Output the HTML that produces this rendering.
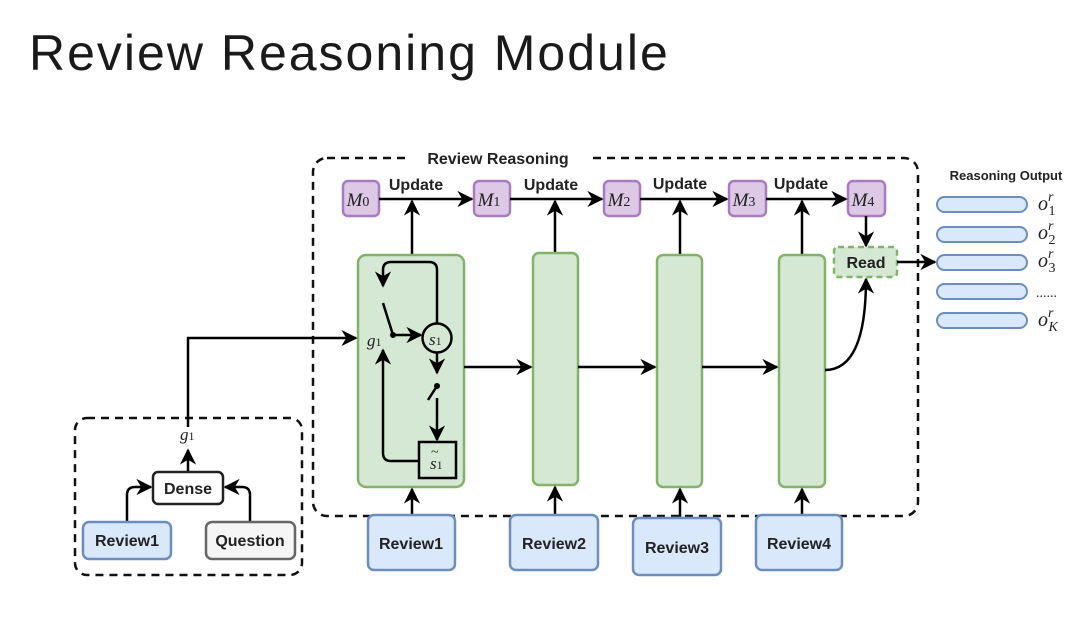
<!DOCTYPE html>
<html><head><meta charset="utf-8"><style>
html,body{margin:0;padding:0;background:#fff;}
body{width:1092px;height:622px;overflow:hidden;position:relative;}
.t{position:absolute;left:29px;top:24px;font-family:"Liberation Sans",sans-serif;font-size:50px;font-weight:normal;color:#1a1a1a;letter-spacing:2px;}
</style></head><body>
<div class="t">Review Reasoning Module</div>
<svg width="1092" height="622" style="position:absolute;left:0;top:0" font-family="Liberation Sans, sans-serif">
<defs>
<marker id="a" viewBox="0 0 10 10" refX="9" refY="5" markerWidth="6.5" markerHeight="6.5" orient="auto-start-reverse"><path d="M0,0 L10,5 L0,10 L3,5 z" fill="#000"/></marker>
</defs>
<g fill="none" stroke="#111" stroke-width="2.5" stroke-dasharray="8,6">
<rect x="313" y="158" width="605" height="358" rx="14"/>
<rect x="75" y="418" width="227" height="157" rx="12"/>
</g>
<rect x="408" y="148" width="180" height="20" fill="#fff"/>
<text x="498" y="164" font-size="16" font-weight="bold" text-anchor="middle" fill="#222">Review Reasoning</text>
<g fill="#ddc8e6" stroke="#a77bc0" stroke-width="2.5">
<rect x="343" y="181" width="36" height="35" rx="5"/>
<rect x="474" y="181" width="36" height="35" rx="5"/>
<rect x="604" y="181" width="36" height="35" rx="5"/>
<rect x="729" y="181" width="37" height="35" rx="5"/>
<rect x="848" y="181" width="37" height="35" rx="5"/>
</g>
<g font-family="Liberation Serif, serif" font-style="italic" font-size="19" fill="#222" text-anchor="middle">
<text x="358" y="206">M<tspan font-style="normal" font-size="14">0</tspan></text>
<text x="489" y="206">M<tspan font-style="normal" font-size="14">1</tspan></text>
<text x="619" y="206">M<tspan font-style="normal" font-size="14">2</tspan></text>
<text x="744" y="206">M<tspan font-style="normal" font-size="14">3</tspan></text>
<text x="863" y="206">M<tspan font-style="normal" font-size="14">4</tspan></text>
</g>
<g font-size="16" font-weight="bold" fill="#222" text-anchor="middle">
<text x="416" y="190">Update</text><text x="551" y="190">Update</text><text x="680" y="189">Update</text><text x="801" y="189">Update</text>
</g>
<g stroke="#000" stroke-width="2.5" fill="none" marker-end="url(#a)">
<line x1="379" y1="199" x2="472" y2="199"/>
<line x1="510" y1="199" x2="602" y2="199"/>
<line x1="640" y1="199" x2="727" y2="199"/>
<line x1="766" y1="199" x2="846" y2="199"/>
<line x1="412" y1="255" x2="412" y2="201"/>
<line x1="555" y1="253" x2="555" y2="201"/>
<line x1="680" y1="255" x2="680" y2="201"/>
<line x1="802" y1="255" x2="802" y2="201"/>
<line x1="866" y1="216" x2="866" y2="246"/>
</g>
<g fill="#d5e8d4" stroke="#82b366" stroke-width="2.5">
<rect x="358" y="255" width="106" height="232" rx="8"/>
<rect x="533" y="253" width="45" height="232" rx="6"/>
<rect x="657" y="255" width="45" height="232" rx="6"/>
<rect x="779" y="255" width="46" height="232" rx="6"/>
<rect x="834" y="247" width="63" height="30" rx="4" stroke-dasharray="6,4"/>
</g>
<text x="866" y="268" font-size="16" font-weight="bold" text-anchor="middle" fill="#222">Read</text>
<g stroke="#000" stroke-width="2.5" fill="none">
<line x1="464" y1="367" x2="531" y2="367" marker-end="url(#a)"/>
<line x1="578" y1="367" x2="655" y2="367" marker-end="url(#a)"/>
<line x1="702" y1="367" x2="777" y2="367" marker-end="url(#a)"/>
<path d="M825,370 C860,370 866,320 866,279" marker-end="url(#a)"/>
<line x1="897" y1="262" x2="935" y2="262" marker-end="url(#a)"/>
<path d="M188,427 L188,338 L356,338" marker-end="url(#a)"/>
<path d="M437,323 L437,270 Q437,262 429,262 L391,262 Q383,262 383,270 L383,286" marker-end="url(#a)"/>
<line x1="383" y1="303" x2="393" y2="335"/>
<line x1="393" y1="335" x2="421" y2="335" marker-end="url(#a)"/>
<line x1="437" y1="353" x2="437" y2="373" marker-end="url(#a)"/>
<line x1="437" y1="386" x2="428" y2="400"/>
<line x1="437" y1="398" x2="437" y2="440" marker-end="url(#a)"/>
<path d="M419,461 L391,461 Q383,461 383,453 L383,350" marker-end="url(#a)"/>
<line x1="412" y1="515" x2="412" y2="489" marker-end="url(#a)"/>
<line x1="555" y1="515" x2="555" y2="487" marker-end="url(#a)"/>
<line x1="680" y1="518" x2="680" y2="489" marker-end="url(#a)"/>
<line x1="802" y1="515" x2="802" y2="489" marker-end="url(#a)"/>
<line x1="188" y1="472" x2="188" y2="450" marker-end="url(#a)"/>
<path d="M127,522 L127,495 Q127,487 135,487 L151,487" marker-end="url(#a)"/>
<path d="M250,522 L250,495 Q250,487 242,487 L225,487" marker-end="url(#a)"/>
</g>
<circle cx="393" cy="335" r="3" fill="#000"/>
<circle cx="437" cy="386" r="3" fill="#000"/>
<circle cx="437" cy="338" r="14.5" fill="none" stroke="#000" stroke-width="2.5"/>
<rect x="419" y="442" width="37" height="36" fill="none" stroke="#000" stroke-width="2.5"/>
<g font-family="Liberation Serif, serif" font-style="italic" fill="#222" font-size="17">
<text x="367" y="346">g<tspan font-style="normal" font-size="12">1</tspan></text>
<text x="429" y="345">s<tspan font-style="normal" font-size="12">1</tspan></text>
<text x="430" y="469">s<tspan font-style="normal" font-size="12">1</tspan></text>
<text x="431" y="456" font-style="normal" font-size="14">~</text>
<text x="180" y="440">g<tspan font-style="normal" font-size="12">1</tspan></text>
</g>
<g fill="#dae8fc" stroke="#6c8ebf" stroke-width="2.5">
<rect x="368" y="515" width="87" height="55" rx="6"/>
<rect x="510" y="515" width="88" height="55" rx="6"/>
<rect x="633" y="518" width="88" height="57" rx="6"/>
<rect x="756" y="515" width="86" height="55" rx="6"/>
<rect x="83" y="522" width="88" height="37" rx="6"/>
</g>
<rect x="206" y="522" width="89" height="37" rx="6" fill="#f5f5f5" stroke="#666" stroke-width="2.5"/>
<rect x="153" y="472" width="70" height="32" rx="5" fill="#fff" stroke="#222" stroke-width="2.5"/>
<g font-size="16" font-weight="bold" fill="#222" text-anchor="middle">
<text x="411" y="549">Review1</text><text x="554" y="549">Review2</text><text x="677" y="553">Review3</text><text x="799" y="549">Review4</text>
<text x="127" y="546">Review1</text><text x="250" y="546">Question</text><text x="188" y="494">Dense</text>
<text x="1006" y="180" font-size="13">Reasoning Output</text>
</g>
<g fill="#dae8fc" stroke="#6c8ebf" stroke-width="2">
<rect x="937" y="197" width="90" height="15" rx="7.5"/>
<rect x="937" y="227" width="90" height="15" rx="7.5"/>
<rect x="937" y="255" width="90" height="15" rx="7.5"/>
<rect x="937" y="284" width="90" height="15" rx="7.5"/>
<rect x="937" y="313" width="90" height="15" rx="7.5"/>
</g>
<g font-family="Liberation Serif, serif" font-style="italic" font-size="20" fill="#222">
<text x="1038" y="210">o<tspan font-size="14" dy="-9">r</tspan><tspan font-style="normal" font-size="14" dx="-5" dy="14">1</tspan></text>
<text x="1038" y="239">o<tspan font-size="14" dy="-9">r</tspan><tspan font-style="normal" font-size="14" dx="-5" dy="14">2</tspan></text>
<text x="1038" y="267">o<tspan font-size="14" dy="-9">r</tspan><tspan font-style="normal" font-size="14" dx="-5" dy="14">3</tspan></text>
<text x="1036" y="297" font-style="normal" font-size="14">......</text>
<text x="1038" y="326">o<tspan font-size="14" dy="-9">r</tspan><tspan font-size="14" dx="-5" dy="14">K</tspan></text>
</g>
</svg>
</body></html>
